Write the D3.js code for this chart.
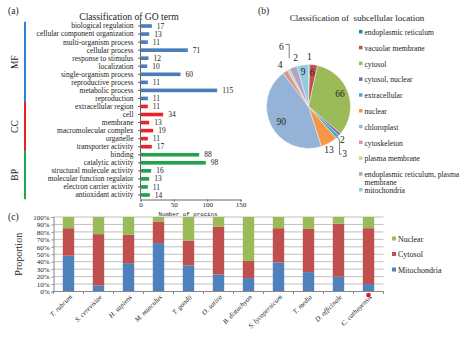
<!DOCTYPE html>
<html>
<head>
<meta charset="utf-8">
<script src="https://cdn.jsdelivr.net/npm/d3@7"></script>
<style>
  html, body { margin: 0; padding: 0; background: #fff; }
  svg { display: block; }
  text { font-family: "Liberation Serif", "Times New Roman", serif; fill: #222; }
</style>
</head>
<body>
<svg id="fig" width="474" height="339"></svg>
<script>
// GO classification (panel a)
const goTerms = [
  'biological regulation', 'cellular component organization', 'multi-organism process',
  'cellular process', 'response to stimulus', 'localization', 'single-organism process',
  'reproductive process', 'metabolic process', 'reproduction',
  'extracellular region', 'cell', 'membrane', 'macromolecular complex', 'organelle',
  'transporter activity',
  'binding', 'catalytic activity', 'structural molecule activity',
  'molecular function regulator', 'electron carrier activity', 'antioxidant activity'
];
const goCounts = [17, 13, 11, 71, 12, 10, 60, 11, 115, 11, 11, 34, 13, 19, 11, 17, 88, 98, 16, 13, 11, 14];
const goGroups = ['MF', 'CC', 'BP'];
const goGroupSizes = [10, 6, 6];
const goTicks = [0, 50, 100, 150];

// subcellular location (panel b)
const locNames = [
  'endoplasmic reticulum', 'vacuolar membrane', 'cytosol', 'cytosol, nuclear', 'extracellular',
  'nuclear', 'chloroplast', 'cytoskeleton', 'plasma membrane',
  'endoplasmic reticulum, plasma membrane', 'mitochondria'
];
const locCounts = [1, 6, 66, 2, 3, 13, 90, 4, 2, 6, 9];

// localisation proportions by species (panel c), in percent
const species = ['T. rubrum', 'S. cerevisiae', 'H. sapiens', 'M. musculus', 'T. gondii', 'O. sativa',
  'B. distachyon', 'S. lycopersicum', 'T. media', 'D. officinale', 'C. cathayensis'];
const mitochondria = [48, 8, 38, 65, 35, 23, 18, 39, 26, 20, 10];
const cytosol = [37, 69, 38, 29, 33, 64, 23, 46, 58, 71, 75];
const nuclear = [15, 23, 24, 6, 32, 13, 59, 15, 16, 9, 15];
const propTicks = [0, 10, 20, 30, 40, 50, 60, 70, 80, 90, 100];

const svg = d3.select('#fig');
svg.append('rect').attr('width', 474).attr('height', 339).attr('fill', '#fff');

// ---------- (a) ----------
const groupColors = ['#4A7EBB', '#E8262A', '#22A24E'];
const groupLineColors = ['#2F7FD2', '#E81E24', '#1FA84E'];
const termGroup = [];
goGroupSizes.forEach((n, g) => { for (let i = 0; i < n; i++) termGroup.push(g); });

const ya = d3.scaleBand().domain(goTerms).range([22, 199]).paddingInner(0.55).paddingOuter(0.275);
const xa = d3.scaleLinear().domain([0, 150]).range([140.5, 240.5]);

const ga = svg.append('g');
ga.append('text').attr('x', 8).attr('y', 14).attr('font-size', 9.5).text('(a)');
ga.append('text').attr('x', 129).attr('y', 20).attr('text-anchor', 'middle')
  .attr('font-size', 9.6).text('Classification of GO term');

ga.selectAll('rect.bar').data(goTerms).enter().append('rect')
  .attr('class', 'bar')
  .attr('x', xa(0))
  .attr('y', d => ya(d))
  .attr('width', (d, i) => xa(goCounts[i]) - xa(0))
  .attr('height', ya.bandwidth())
  .attr('fill', (d, i) => groupColors[termGroup[i]]);

ga.selectAll('text.val').data(goTerms).enter().append('text')
  .attr('class', 'val')
  .attr('x', (d, i) => xa(goCounts[i]) + 5)
  .attr('y', d => ya(d) + ya.bandwidth() / 2 + 2.6)
  .attr('font-size', 7.5)
  .text((d, i) => goCounts[i]);

const yAxisA = ga.append('g').attr('transform', `translate(${xa(0)},0)`)
  .call(d3.axisLeft(ya).tickSize(2.5).tickPadding(4.5));
yAxisA.select('.domain').attr('stroke', '#666').attr('d', `M-0,${ya.range()[0] - 2}V199.5`);
yAxisA.selectAll('.tick line').attr('stroke', '#666');
yAxisA.selectAll('.tick text').attr('font-size', 7.5).attr('fill', '#222')
  .style('font-family', '"Liberation Serif", serif');

const xAxisA = ga.append('g').attr('transform', 'translate(0,199.5)')
  .call(d3.axisBottom(xa).tickValues(goTicks).tickSize(2).tickPadding(0.5));
xAxisA.select('.domain').attr('stroke', '#666');
xAxisA.selectAll('.tick line').attr('stroke', '#666');
xAxisA.selectAll('.tick text').attr('font-size', 7).attr('fill', '#222')
  .style('font-family', '"Liberation Serif", serif');
ga.append('text').attr('x', 188).attr('y', 215.5).attr('text-anchor', 'middle')
  .attr('font-size', 5.8).style('font-family', '"Liberation Mono", monospace').text('Number of procins');

// group brackets
let start = 0;
goGroups.forEach((g, gi) => {
  const first = goTerms[start], last = goTerms[start + goGroupSizes[gi] - 1];
  const y0 = ya(first) - 2.5, y1 = ya(last) + ya.bandwidth() + 2.5;
  ga.append('line').attr('x1', 25).attr('x2', 25).attr('y1', y0).attr('y2', y1)
    .attr('stroke', groupLineColors[gi]).attr('stroke-width', 2);
  ga.append('text')
    .attr('transform', `translate(18,${(y0 + y1) / 2}) rotate(-90)`)
    .attr('text-anchor', 'middle').attr('font-size', 9.5).text(g);
  start += goGroupSizes[gi];
});

// ---------- (b) ----------
const locColors = ['#31809C', '#C0504D', '#9BBB59', '#8064A2', '#4BACC6', '#F79646',
  '#95B3D7', '#D99694', '#C3D69B', '#B3A2C7', '#93CDDD'];
const cx = 308.5, cy = 106.5, R = 42;
const gb = svg.append('g');
gb.append('text').attr('x', 258).attr('y', 14).attr('font-size', 9.5).text('(b)');
gb.append('text').attr('x', 357).attr('y', 21).attr('text-anchor', 'middle')
  .attr('font-size', 9).style('white-space', 'pre').text('Classification of  subcellular location');

const pie = d3.pie().sort(null).value(d => d);
const arcs = pie(locCounts);
const arc = d3.arc().innerRadius(0).outerRadius(R);
const pg = gb.append('g').attr('transform', `translate(${cx},${cy})`);
pg.selectAll('path').data(arcs).enter().append('path')
  .attr('d', arc).attr('fill', (d, i) => locColors[i])
  .attr('stroke', '#fff').attr('stroke-width', 0.4);

// label placement: radius and angular nudge (degrees) for each slice label
const labelRadius = [50, 34, 34, 47, 59, 48, 31, 51, 51, 66, 35];
const labelNudge = [0, -1, -3, 2, 6, 4, -1, 0, 14, -3, -1];
const labelPos = arcs.map((a, i) => {
  const ang = (a.startAngle + a.endAngle) / 2 + labelNudge[i] * Math.PI / 180;
  return [labelRadius[i] * Math.sin(ang), -labelRadius[i] * Math.cos(ang)];
});
pg.selectAll('text.pl').data(arcs).enter().append('text')
  .attr('class', 'pl')
  .attr('x', (d, i) => labelPos[i][0])
  .attr('y', (d, i) => labelPos[i][1] + 3.5)
  .attr('text-anchor', 'middle').attr('font-size', 9.5)
  .text(d => d.data);

// leader lines for the small slices
const edge = (i, r) => {
  const a = (arcs[i].startAngle + arcs[i].endAngle) / 2;
  return [r * Math.sin(a), -r * Math.cos(a)];
};
const p9 = labelPos[9], e9 = edge(9, R);
pg.append('path').attr('fill', 'none').attr('stroke', '#444').attr('stroke-width', 0.7)
  .attr('d', `M${p9[0] + 4},${p9[1] - 2}H${p9[0] + 8}V${e9[1] - 9}`);
const p4 = labelPos[4], e4 = edge(4, R);
pg.append('path').attr('fill', 'none').attr('stroke', '#444').attr('stroke-width', 0.7)
  .attr('d', `M${e4[0]},${e4[1]}L${p4[0] - 5},${e4[1] + 4}V${p4[1] + 1}H${p4[0] - 3}`);

// legend
const lg = gb.append('g');
locNames.forEach((n, i) => {
  const y = 32.5 + i * 15.8;
  lg.append('rect').attr('x', 359).attr('y', y - 2.5).attr('width', 3.5).attr('height', 3.5)
    .attr('fill', locColors[i]);
  if (i === 9) {
    lg.append('text').attr('x', 364.5).attr('y', y + 2.5).attr('font-size', 7.6)
      .attr('fill', '#333').text('endoplasmic reticulum, plasma');
    lg.append('text').attr('x', 364.5).attr('y', y + 10).attr('font-size', 7.6)
      .attr('fill', '#333').text('membrane');
  } else {
    lg.append('text').attr('x', 364.5).attr('y', y + 2.5).attr('font-size', 7.6)
      .attr('fill', '#333').text(n);
  }
});

// ---------- (c) ----------
const gc = svg.append('g');
const xc = d3.scaleBand().domain(species).range([53.5, 383.5]).paddingInner(0.62).paddingOuter(0.31);
const yc = d3.scaleLinear().domain([0, 100]).range([291.5, 217]);
const stackColors = ['#4F81BD', '#C0504D', '#9BBB59'];
const stackNames = ['Mitochondria', 'Cytosol', 'Nuclear'];

gc.append('text').attr('x', 8).attr('y', 220).attr('font-size', 9.5).text('(c)');

const grid = gc.append('g');
grid.selectAll('line').data(propTicks).enter().append('line')
  .attr('x1', 53.5).attr('x2', 383.5)
  .attr('y1', d => yc(d)).attr('y2', d => yc(d))
  .attr('stroke', '#A6A6A6').attr('stroke-width', 0.7);

const yAxisC = gc.append('g').attr('transform', 'translate(53.5,0)')
  .call(d3.axisLeft(yc).tickValues(propTicks).tickFormat(d => d + '%').tickSize(2).tickPadding(2));
yAxisC.select('.domain').attr('stroke', '#888');
yAxisC.selectAll('.tick line').attr('stroke', '#888');
yAxisC.selectAll('.tick text').attr('font-size', 7).attr('fill', '#222')
  .style('font-family', '"Liberation Serif", serif');
gc.append('text').attr('transform', `translate(22,${yc(50)}) rotate(-90)`)
  .attr('text-anchor', 'middle').attr('font-size', 10).text('Proportion');

const rows = species.map((s, i) => ({ s, v: [mitochondria[i], cytosol[i], nuclear[i]] }));
rows.forEach(r => {
  let base = 0;
  r.v.forEach((v, k) => {
    gc.append('rect').attr('x', xc(r.s)).attr('width', xc.bandwidth())
      .attr('y', yc(base + v)).attr('height', yc(base) - yc(base + v))
      .attr('fill', stackColors[k]);
    base += v;
  });
});

// bottom axis with ticks between categories
const xAxisC = gc.append('g').attr('transform', `translate(0,${yc(0)})`);
xAxisC.append('line').attr('x1', 53.5).attr('x2', 383.5).attr('stroke', '#888');
xAxisC.selectAll('line.t').data(d3.range(species.length + 1)).enter().append('line')
  .attr('class', 't')
  .attr('x1', i => 53.5 + i * xc.step()).attr('x2', i => 53.5 + i * xc.step())
  .attr('y1', 0).attr('y2', 2.5).attr('stroke', '#888');
gc.selectAll('text.sp').data(species).enter().append('text')
  .attr('class', 'sp')
  .attr('transform', d => `translate(${xc(d) + xc.bandwidth() / 2 + 4},${yc(0) + 6}) rotate(-45)`)
  .attr('text-anchor', 'end').attr('font-size', 7).attr('font-style', 'italic').text(d => d);

// highlighted species marker
const hl = species[species.length - 1];
gc.append('circle').attr('cx', xc(hl) + xc.bandwidth() / 2).attr('cy', yc(0) + 3.5)
  .attr('r', 2.3).attr('fill', '#E8141A');

// legend
[2, 1, 0].forEach((k, j) => {
  const y = 239 + j * 15.5;
  gc.append('rect').attr('x', 392).attr('y', y - 2.5).attr('width', 4).attr('height', 4)
    .attr('fill', stackColors[k]);
  gc.append('text').attr('x', 398).attr('y', y + 2.5).attr('font-size', 8).text(stackNames[k]);
});
</script>
</body>
</html>
